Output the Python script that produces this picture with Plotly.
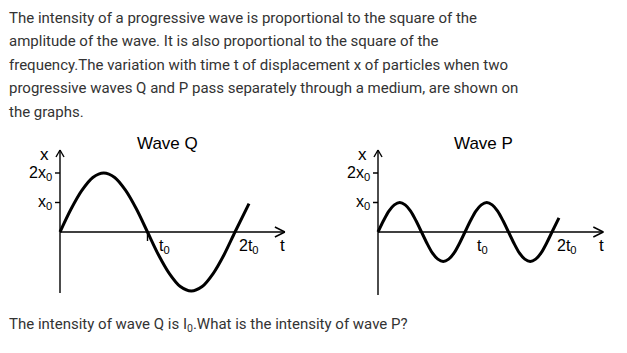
import plotly.graph_objects as go

W, H = 627, 353

# ---- data (in units of t0 and x0) ----
q_t = [0, 0.125, 0.25, 0.375, 0.5, 0.625, 0.75, 0.875, 1.0,
       1.125, 1.25, 1.375, 1.5, 1.625, 1.75, 1.875, 2.0, 2.16]
q_x = [0, 0.77, 1.41, 1.85, 2.0, 1.85, 1.41, 0.77, 0,
       -0.77, -1.41, -1.85, -2.0, -1.85, -1.41, -0.77, 0, 0.96]
p_t = [0, 0.0625, 0.125, 0.1875, 0.25, 0.3125, 0.375, 0.4375, 0.5,
       0.5625, 0.625, 0.6875, 0.75, 0.8125, 0.875, 0.9375, 1.0,
       1.0625, 1.125, 1.1875, 1.25, 1.3125, 1.375, 1.4375, 1.5,
       1.5625, 1.625, 1.6875, 1.75, 1.8125, 1.875, 1.9375, 2.0, 2.08]
p_x = [0, 0.38, 0.71, 0.92, 1.0, 0.92, 0.71, 0.38, 0,
       -0.38, -0.71, -0.92, -1.0, -0.92, -0.71, -0.38, 0,
       0.38, 0.71, 0.92, 1.0, 0.92, 0.71, 0.38, 0,
       -0.38, -0.71, -0.92, -1.0, -0.92, -0.71, -0.38, 0, 0.48]
y_tick_vals = [1, 2]
y_tick_text = ["x<sub>0</sub>", "2x<sub>0</sub>"]
t_tick_vals = [1, 2]
t_tick_text = ["t<sub>0</sub>", "2t<sub>0</sub>"]

question_lines = [
    "The intensity of a progressive wave is proportional to the square of the",
    "amplitude of the wave. It is also proportional to the square of the",
    "frequency.The variation with time t of displacement x of particles when two",
    "progressive waves Q and P pass separately through a medium, are shown on",
    "the graphs.",
]
bottom_line = "The intensity of wave Q is I<sub>0</sub>.What is the intensity of wave P?"

# ---- pixel geometry ----
ZERO_Y = 232.0
PX_X0 = 29.5
panels = [
    dict(xa="x", ox=60.0, pt=87.5, top=150, bot=293, right_t=2.57,
         title="Wave Q", title_px=167, tick_mark=True, lab_off=[9, 2], t=q_t, v=q_x),
    dict(xa="x2", ox=378.0, pt=87.0, top=150, bot=295, right_t=2.59,
         title="Wave P", title_px=483, tick_mark=False, lab_off=[10, 3], t=p_t, v=p_x),
]

y_lo = (ZERO_Y - H) / PX_X0
y_hi = ZERO_Y / PX_X0

fig = go.Figure()
shapes = []
annotations = []
FONT_G = "Arial, Liberation Sans, sans-serif"
FONT_T = "Roboto, Open Sans, sans-serif"
TXT = "#333333"

split = 0.5
for i, p in enumerate(panels):
    d0 = 0 if i == 0 else split
    d1 = split if i == 0 else 1
    px0, px1 = d0 * W, d1 * W
    rng = [(px0 - p["ox"]) / p["pt"], (px1 - p["ox"]) / p["pt"]]
    axname = "xaxis" if i == 0 else "xaxis2"
    fig.update_layout(**{axname: dict(domain=[d0, d1], range=rng, visible=False,
                                      fixedrange=True)})
    fig.add_trace(go.Scatter(x=p["t"], y=p["v"], mode="lines",
                             line=dict(color="black", width=3, shape="spline", smoothing=0.8),
                             xaxis=p["xa"], yaxis="y", hoverinfo="skip", showlegend=False))

    def dx(px, p=p):  # pixel offset -> data x
        return px / p["pt"]

    def dy(px):
        return px / PX_X0

    xa = p["xa"]
    top = (ZERO_Y - p["top"]) / PX_X0
    bot = (ZERO_Y - p["bot"]) / PX_X0
    lw = 1.4
    ln = dict(color="black", width=lw)
    # vertical axis with open arrow head
    shapes.append(dict(type="line", xref=xa, yref="y", x0=0, x1=0, y0=bot, y1=top, line=ln))
    shapes.append(dict(type="line", xref=xa, yref="y", x0=-dx(4), x1=0, y0=top - dy(7), y1=top, line=ln))
    shapes.append(dict(type="line", xref=xa, yref="y", x0=dx(4), x1=0, y0=top - dy(7), y1=top, line=ln))
    # horizontal axis with open arrow head
    rt = p["right_t"]
    shapes.append(dict(type="line", xref=xa, yref="y", x0=0, x1=rt, y0=0, y1=0, line=ln))
    shapes.append(dict(type="line", xref=xa, yref="y", x0=rt - dx(10), x1=rt, y0=dy(5), y1=0, line=ln))
    shapes.append(dict(type="line", xref=xa, yref="y", x0=rt - dx(10), x1=rt, y0=-dy(5), y1=0, line=ln))
    # y ticks and labels
    for v, txt in zip(y_tick_vals, y_tick_text):
        shapes.append(dict(type="line", xref=xa, yref="y", x0=-dx(5), x1=0, y0=v, y1=v, line=ln))
        annotations.append(dict(xref=xa, yref="y", x=-dx(6), y=v, text=txt, showarrow=False,
                                xanchor="right", yanchor="middle",
                                font=dict(family=FONT_G, size=16, color="black")))
    annotations.append(dict(xref=xa, yref="y", x=-dx(16), y=(ZERO_Y - 154) / PX_X0, text="x",
                            showarrow=False, xanchor="center", yanchor="middle",
                            font=dict(family=FONT_G, size=17, color="black")))
    # t labels
    for v, txt, off in zip(t_tick_vals, t_tick_text, p["lab_off"]):
        if p["tick_mark"] and v == 1:
            shapes.append(dict(type="line", xref=xa, yref="y", x0=v, x1=v, y0=0, y1=-dy(9), line=ln))
        annotations.append(dict(xref=xa, yref="y", x=v + dx(off), y=-dy(14), text=txt,
                                showarrow=False, xanchor="left", yanchor="middle",
                                font=dict(family=FONT_G, size=16, color="black")))
    annotations.append(dict(xref=xa, yref="y", x=rt - dx(2), y=-dy(13), text="t",
                            showarrow=False, xanchor="center", yanchor="middle",
                            font=dict(family=FONT_G, size=17, color="black")))
    # title
    annotations.append(dict(xref=xa, yref="y", x=(p["title_px"] - p["ox"]) / p["pt"],
                            y=(ZERO_Y - 143) / PX_X0, text=p["title"], showarrow=False,
                            xanchor="center", yanchor="middle",
                            font=dict(family=FONT_G, size=17, color="black")))

# question text
for k, line in enumerate(question_lines):
    yc = 18 + k * 23.4
    annotations.append(dict(xref="paper", yref="paper", x=7 / W, y=1 - yc / H, text=line,
                            showarrow=False, xanchor="left", yanchor="middle",
                            font=dict(family=FONT_T, size=15, color=TXT)))
annotations.append(dict(xref="paper", yref="paper", x=7 / W, y=1 - 325 / H, text=bottom_line,
                        showarrow=False, xanchor="left", yanchor="middle",
                        font=dict(family=FONT_T, size=15, color=TXT)))

fig.update_layout(
    width=W, height=H,
    margin=dict(l=0, r=0, t=0, b=0),
    paper_bgcolor="white", plot_bgcolor="white",
    yaxis=dict(range=[y_lo, y_hi], visible=False, fixedrange=True, domain=[0, 1]),
    shapes=shapes, annotations=annotations,
    showlegend=False,
)
fig.write_html("out.html", config={"displayModeBar": False})
